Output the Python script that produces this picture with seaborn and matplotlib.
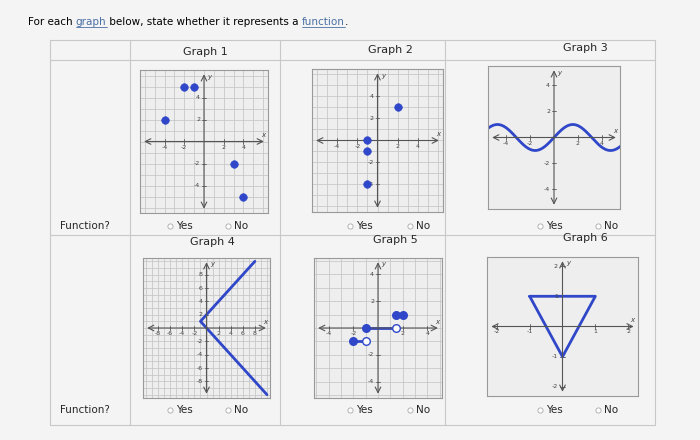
import numpy as np
import matplotlib.pyplot as plt
import seaborn as sns

sns.set_style("white")

# graph 1 and 2: scatter points
g1_x = [-4, -2, -1, 3, 4]
g1_y = [2, 5, 5, -2, -5]
g2_x = [-1, -1, -1, 2]
g2_y = [0, -1, -4, 3]
# graph 3: sine-shaped curve, y = sin(x)
g3_xmin, g3_xmax = -6, 6
# graph 4: sideways V
g4_x = [8, -1, 10]
g4_y = [10, 1, -10]
# graph 5: step segments (x0, x1, y, closed_left, closed_right)
g5_segs = [(-2, -1, -1, True, False), (-1, 1.5, 0, True, False), (1.5, 2, 1, True, True)]
# graph 6: triangle
g6_x = [-1, 1, 0, -1]
g6_y = [1, 1, -1, 1]

BLUE = "#2f47c8"
LINK = "#4a6fa5"
PX_W, PX_H = 700, 440

fig = plt.figure(figsize=(7, 4.4), dpi=100)
fig.patch.set_facecolor("#f4f4f4")


def box(x0, y0, x1, y1):
    return [x0 / PX_W, 1 - y1 / PX_H, (x1 - x0) / PX_W, (y1 - y0) / PX_H]


def coord_axes(rect, lim, ticks, grid=True):
    ax = fig.add_axes(rect)
    ax.set_facecolor("#eeeeee")
    ax.set_xlim(-lim, lim)
    ax.set_ylim(-lim, lim)
    if grid:
        for g in range(-int(lim), int(lim) + 1):
            ax.axvline(g, color="#c8c8c8", lw=0.6, zorder=0)
            ax.axhline(g, color="#c8c8c8", lw=0.6, zorder=0)
    ax.annotate("", xy=(lim * 0.98, 0), xytext=(-lim * 0.98, 0),
                arrowprops=dict(arrowstyle="<->", color="#555", lw=0.8))
    ax.annotate("", xy=(0, lim * 0.98), xytext=(0, -lim * 0.98),
                arrowprops=dict(arrowstyle="<->", color="#555", lw=0.8))
    for t in ticks:
        ax.plot([t, t], [-lim * 0.03, lim * 0.03], color="#555", lw=0.6)
        ax.plot([-lim * 0.03, lim * 0.03], [t, t], color="#555", lw=0.6)
        ax.text(t, -lim * 0.1, str(t), fontsize=4.5, ha="center", color="#444")
        ax.text(-lim * 0.06, t, str(t), fontsize=4.5, ha="right", va="center", color="#444")
    ax.text(lim * 0.9, lim * 0.06, "x", fontsize=5, style="italic", color="#444")
    ax.text(lim * 0.05, lim * 0.88, "y", fontsize=5, style="italic", color="#444")
    ax.set_xticks([])
    ax.set_yticks([])
    for s in ax.spines.values():
        s.set_color("#999")
        s.set_linewidth(0.8)
    return ax


# table lines
frame = fig.add_axes([0, 0, 1, 1])
frame.set_xlim(0, PX_W)
frame.set_ylim(PX_H, 0)
frame.axis("off")
for x in [50, 130, 280, 445, 655]:
    frame.plot([x, x], [40, 425], color="#c8c8c8", lw=0.8)
for y in [40, 60, 235, 425]:
    frame.plot([50, 655], [y, y], color="#c8c8c8", lw=0.8)

# title built piece by piece so the links sit right after the plain text
renderer = fig.canvas.get_renderer()
cur = 28
for part, color in [("For each ", "black"), ("graph", LINK),
                    (" below, state whether it represents a ", "black"),
                    ("function", LINK), (".", "black")]:
    t = frame.text(cur, 22, part, fontsize=7.5, va="center", color=color)
    w = t.get_window_extent(renderer).width
    if color == LINK:
        frame.plot([cur, cur + w], [27, 27], color=LINK, lw=0.6)
    cur += w

for cx, y, lbl in [(205, 52, "Graph 1"), (390, 50, "Graph 2"), (585, 48, "Graph 3"),
                   (212, 242, "Graph 4"), (395, 240, "Graph 5"), (585, 238, "Graph 6")]:
    frame.text(cx, y, lbl, fontsize=8, ha="center", va="center")
for y in [226, 410]:
    frame.text(110, y, "Function?", fontsize=7.5, ha="right", va="center")
for ry in [226, 410]:
    for xy, xn in [(170, 228), (350, 410), (540, 598)]:
        frame.scatter([xy, xn], [ry, ry], s=14, facecolor="white", edgecolor="#aaa", lw=0.6)
        frame.text(xy + 6, ry, "Yes", fontsize=7.5, va="center")
        frame.text(xn + 6, ry, "No", fontsize=7.5, va="center")

# graph 1
ax = coord_axes(box(140, 70, 268, 213), 6.5, [-4, -2, 2, 4])
sns.scatterplot(x=g1_x, y=g1_y, ax=ax, color=BLUE, s=30, edgecolor=BLUE, zorder=5)
# graph 2
ax = coord_axes(box(312, 69, 443, 212), 6.5, [-4, -2, 2, 4])
sns.scatterplot(x=g2_x, y=g2_y, ax=ax, color=BLUE, s=30, edgecolor=BLUE, zorder=5)
# graph 3
ax = coord_axes(box(488, 66, 620, 209), 5.5, [-4, -2, 2, 4], grid=False)
xs = np.linspace(g3_xmin, g3_xmax, 300)
sns.lineplot(x=xs, y=np.sin(xs), ax=ax, color=BLUE, lw=2)
# graph 4
ax = coord_axes(box(143, 258, 270, 398), 10.5, [-8, -6, -4, -2, 2, 4, 6, 8])
ax.plot(g4_x, g4_y, color=BLUE, lw=2)
# graph 5
ax = coord_axes(box(314, 258, 442, 398), 5.2, [-4, -2, 2, 4])
for x0, x1, y, c0, c1 in g5_segs:
    ax.plot([x0, x1], [y, y], color=BLUE, lw=2)
    ax.scatter([x0], [y], s=30, color=BLUE if c0 else "white", edgecolor=BLUE, zorder=5)
    ax.scatter([x1], [y], s=30, color=BLUE if c1 else "white", edgecolor=BLUE, zorder=5)
# graph 6
ax = coord_axes(box(487, 257, 638, 396), 2.3, [-2, -1, 1, 2], grid=False)
ax.plot(g6_x, g6_y, color=BLUE, lw=2)

fig.savefig("out.png", dpi=100, facecolor=fig.get_facecolor())
